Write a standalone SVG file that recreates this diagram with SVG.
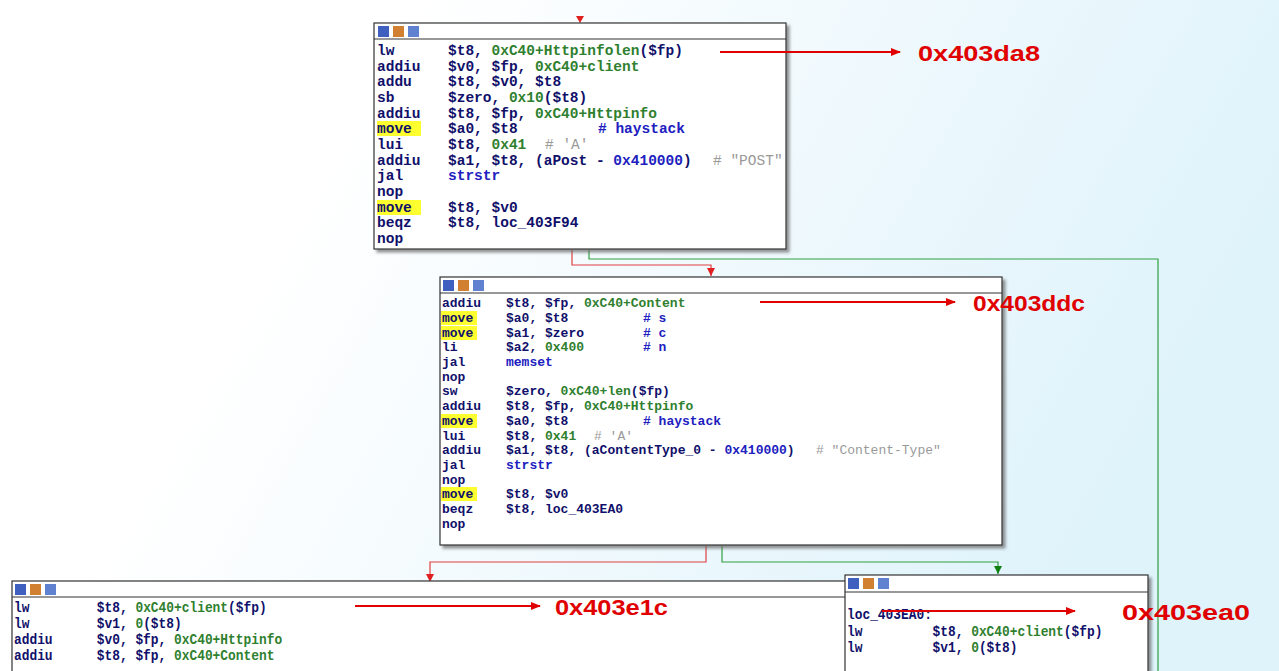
<svg xmlns="http://www.w3.org/2000/svg" width="1279" height="671" viewBox="0 0 1279 671">
<defs>
<linearGradient id="bg" x1="0" y1="0" x2="1" y2="0.3">
<stop offset="0.3" stop-color="#ffffff"/><stop offset="1" stop-color="#dff3fb"/>
</linearGradient>
<marker id="ar" markerWidth="10" markerHeight="8" refX="9" refY="4" orient="auto" markerUnits="userSpaceOnUse"><path d="M0,0 L10,4 L0,8 z" fill="#e00000"/></marker>
<marker id="mr" markerWidth="8" markerHeight="9" refX="8" refY="4" orient="auto" markerUnits="userSpaceOnUse"><path d="M0,0 L8,4 L0,8 z" fill="#e02020"/></marker>
<marker id="mg" markerWidth="8" markerHeight="9" refX="8" refY="4" orient="auto" markerUnits="userSpaceOnUse"><path d="M0,0 L8,4 L0,8 z" fill="#108010"/></marker>
<filter id="sh" x="-5%" y="-5%" width="110%" height="115%"><feDropShadow dx="3" dy="3" stdDeviation="1.5" flood-color="#666" flood-opacity="0.7"/></filter>
</defs>
<style>
.box{fill:#fff;stroke:#333;stroke-width:1.2;filter:url(#sh)}
.hd{stroke:#333;stroke-width:1}
.c{font-family:"Liberation Mono","DejaVu Sans Mono",monospace;font-weight:bold;fill:#10106a}
.g{fill:#2f7f2f}.b{fill:#2020c0}.gr{fill:#999}
.hl{fill:#ffff30}
.lbl{font-family:"Liberation Sans",Arial,sans-serif;font-weight:bold;font-size:22px;fill:#e00000}
.red{stroke:#e00000;stroke-width:2;fill:none}
.er{stroke:#e04040;stroke-width:1.2;fill:none}
.eg{stroke:#30a040;stroke-width:1.2;fill:none}
</style>
<rect x="0" y="0" width="1279" height="671" fill="url(#bg)"/>
<g id="connectors">
<path d="M576,16 L584,16 L580,23 z" fill="#e02020"/>
<path class="er" d="M572,250 V265 H711 V276" marker-end="url(#mr)"/>
<path class="eg" d="M589,250 V259 H1158 V671"/>
<path class="er" d="M706,546 V562 H430 V582" marker-end="url(#mr)"/>
<path class="eg" d="M722,546 V562 H998 V574" marker-end="url(#mg)"/>
</g>
<g id="node1">
<rect class="box" x="374" y="23" width="412" height="226"/>
<line class="hd" x1="374" y1="39" x2="786" y2="39"/>
<rect x="378" y="26" width="11" height="11" fill="#4060c0"/><rect x="393" y="26" width="11" height="11" fill="#d08030"/><rect x="408" y="26" width="11" height="11" fill="#6080d0"/>
<g class="c" font-size="14.5px">
<rect class="hl" x="377" y="121" width="44" height="15"/><rect class="hl" x="377" y="200" width="44" height="15"/>
<text x="377" y="55">lw<tspan x="448">$t8, </tspan><tspan class="g">0xC40+Httpinfolen</tspan>($fp)</text>
<text x="377" y="71">addiu<tspan x="448">$v0, $fp, </tspan><tspan class="g">0xC40+client</tspan></text>
<text x="377" y="86">addu<tspan x="448">$t8, $v0, $t8</tspan></text>
<text x="377" y="102">sb<tspan x="448">$zero, </tspan><tspan class="g">0x10</tspan>($t8)</text>
<text x="377" y="118">addiu<tspan x="448">$t8, $fp, </tspan><tspan class="g">0xC40+Httpinfo</tspan></text>
<text x="377" y="133">move<tspan x="448">$a0, $t8</tspan><tspan x="598" class="b"># haystack</tspan></text>
<text x="377" y="149">lui<tspan x="448">$t8, </tspan><tspan class="g">0x41</tspan><tspan x="545" class="gr" font-weight="normal"># 'A'</tspan></text>
<text x="377" y="165">addiu<tspan x="448">$a1, $t8, (aPost - </tspan><tspan class="b">0x410000</tspan>)<tspan x="713" class="gr" font-weight="normal"># "POST"</tspan></text>
<text x="377" y="180">jal<tspan x="448" class="b">strstr</tspan></text>
<text x="377" y="196">nop</text>
<text x="377" y="212">move<tspan x="448">$t8, $v0</tspan></text>
<text x="377" y="227">beqz<tspan x="448">$t8, loc_403F94</tspan></text>
<text x="377" y="243">nop</text>
</g>
<line class="red" x1="720" y1="52" x2="900" y2="52" marker-end="url(#ar)"/>
<text class="lbl" x="918" y="61" textLength="122" lengthAdjust="spacingAndGlyphs">0x403da8</text>
</g>
<g id="node2">
<rect class="box" x="440" y="277" width="562" height="268"/>
<line class="hd" x1="440" y1="293" x2="1002" y2="293"/>
<rect x="443" y="280" width="11" height="11" fill="#4060c0"/><rect x="458" y="280" width="11" height="11" fill="#d08030"/><rect x="473" y="280" width="11" height="11" fill="#6080d0"/>
<g class="c" font-size="13px">
<rect class="hl" x="441" y="311" width="36" height="14"/><rect class="hl" x="441" y="326" width="36" height="14"/><rect class="hl" x="441" y="414" width="36" height="14"/><rect class="hl" x="441" y="487" width="36" height="14"/>
<text x="442" y="307">addiu<tspan x="506">$t8, $fp, </tspan><tspan class="g">0xC40+Content</tspan></text>
<text x="442" y="322">move<tspan x="506">$a0, $t8</tspan><tspan x="643" class="b"># s</tspan></text>
<text x="442" y="337">move<tspan x="506">$a1, $zero</tspan><tspan x="643" class="b"># c</tspan></text>
<text x="442" y="351">li<tspan x="506">$a2, </tspan><tspan class="g">0x400</tspan><tspan x="643" class="b"># n</tspan></text>
<text x="442" y="366">jal<tspan x="506" class="b">memset</tspan></text>
<text x="442" y="381">nop</text>
<text x="442" y="395">sw<tspan x="506">$zero, </tspan><tspan class="g">0xC40+len</tspan>($fp)</text>
<text x="442" y="410">addiu<tspan x="506">$t8, $fp, </tspan><tspan class="g">0xC40+Httpinfo</tspan></text>
<text x="442" y="425">move<tspan x="506">$a0, $t8</tspan><tspan x="643" class="b"># haystack</tspan></text>
<text x="442" y="440">lui<tspan x="506">$t8, </tspan><tspan class="g">0x41</tspan><tspan x="594" class="gr" font-weight="normal"># 'A'</tspan></text>
<text x="442" y="454">addiu<tspan x="506">$a1, $t8, (aContentType_0 - </tspan><tspan class="b">0x410000</tspan>)<tspan x="816" class="gr" font-weight="normal"># "Content-Type"</tspan></text>
<text x="442" y="469">jal<tspan x="506" class="b">strstr</tspan></text>
<text x="442" y="484">nop</text>
<text x="442" y="498">move<tspan x="506">$t8, $v0</tspan></text>
<text x="442" y="513">beqz<tspan x="506">$t8, loc_403EA0</tspan></text>
<text x="442" y="528">nop</text>
</g>
<line class="red" x1="760" y1="302" x2="955" y2="302" marker-end="url(#ar)"/>
<text class="lbl" x="973" y="311" textLength="112" lengthAdjust="spacingAndGlyphs">0x403ddc</text>
</g>
<g id="node3">
<rect class="box" x="12" y="581" width="841" height="100"/>
<line class="hd" x1="12" y1="597" x2="853" y2="597"/>
<rect x="15" y="584" width="11" height="11" fill="#4060c0"/><rect x="30" y="584" width="11" height="11" fill="#d08030"/><rect x="45" y="584" width="11" height="11" fill="#6080d0"/>
<g class="c" font-size="14px" font-weight="normal" transform="translate(14 0) scale(0.92 1) translate(-14 0)">
<text x="14" y="612">lw<tspan x="104">$t8, </tspan><tspan class="g">0xC40+client</tspan>($fp)</text>
<text x="14" y="628">lw<tspan x="104">$v1, </tspan><tspan class="g">0</tspan>($t8)</text>
<text x="14" y="644">addiu<tspan x="104">$v0, $fp, </tspan><tspan class="g">0xC40+Httpinfo</tspan></text>
<text x="14" y="660">addiu<tspan x="104">$t8, $fp, </tspan><tspan class="g">0xC40+Content</tspan></text>
</g>
<line class="red" x1="355" y1="606" x2="540" y2="606" marker-end="url(#ar)"/>
<text class="lbl" x="555" y="615" textLength="113" lengthAdjust="spacingAndGlyphs">0x403e1c</text>
</g>
<g id="node4">
<rect class="box" x="845" y="575" width="303" height="106"/>
<line class="hd" x1="845" y1="592" x2="1148" y2="592"/>
<rect x="848" y="578" width="11" height="11" fill="#4060c0"/><rect x="863" y="578" width="11" height="11" fill="#d08030"/><rect x="878" y="578" width="11" height="11" fill="#6080d0"/>
<g class="c" font-size="14px" font-weight="normal" transform="translate(847 0) scale(0.92 1) translate(-847 0)">
<text x="847" y="619">loc_403EA0:</text>
<text x="847" y="636">lw<tspan x="940">$t8, </tspan><tspan class="g">0xC40+client</tspan>($fp)</text>
<text x="847" y="652">lw<tspan x="940">$v1, </tspan><tspan class="g">0</tspan>($t8)</text>
</g>
<line class="red" x1="882" y1="611" x2="1075" y2="611" marker-end="url(#ar)"/>
<text class="lbl" x="1122" y="620" textLength="128" lengthAdjust="spacingAndGlyphs">0x403ea0</text>
</g>
</svg>
